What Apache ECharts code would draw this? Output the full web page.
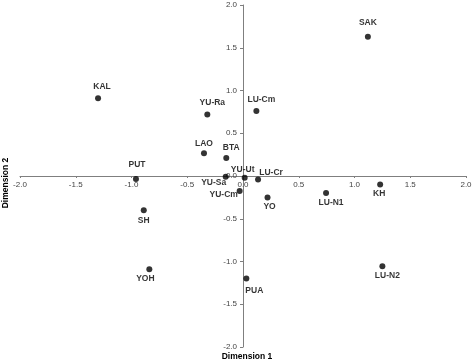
<!DOCTYPE html>
<html>
<head>
<meta charset="utf-8">
<script src="https://cdn.jsdelivr.net/npm/echarts@6/dist/echarts.min.js"></script>
<style>html,body{margin:0;padding:0;background:#fff}#c{width:474px;height:361px}</style>
</head>
<body>
<div id="c"></div>
<script>
var names = ["SAK","KAL","YU-Ra","LU-Cm","LAO","BTA","PUT","YU-Sa","YU-Ut","LU-Cr","YU-Cm","YO","LU-N1","KH","SH","YOH","PUA","LU-N2"];
var dim1 = [1.12,-1.30,-0.32,0.12,-0.35,-0.15,-0.96,-0.155,0.015,0.135,-0.03,0.22,0.745,1.23,-0.89,-0.84,0.03,1.25];
var dim2 = [1.63,0.91,0.72,0.76,0.265,0.21,-0.035,-0.01,-0.02,-0.04,-0.175,-0.25,-0.20,-0.10,-0.40,-1.09,-1.20,-1.055];
var tickValues = [-2.0,-1.5,-1.0,-0.5,0.0,0.5,1.0,1.5,2.0];
var xTitle = "Dimension 1", yTitle = "Dimension 2";

// label placement (style only): offset of label centre from dot centre
var labelOffset = {
  "SAK":[0,-14],"KAL":[4,-12],"YU-Ra":[5,-12],"LU-Cm":[5,-11],"LAO":[0,-10],"BTA":[5,-10],
  "PUT":[1,-14],"YU-Ut":[-2,-8],"LU-Cr":[13,-7],"YU-Sa":[-12,6],"YU-Cm":[-16,4],"YO":[2,9],
  "LU-N1":[5,9.5],"KH":[-1,9],"SH":[0,10],"YOH":[-4,9],"PUA":[8,12],"LU-N2":[5,9]
};
var FONT = "'Liberation Sans', Arial, sans-serif";

var W = 474, H = 361, GL = 20, GR = 8, GT = 5, GB = 14;
var gridW = W - GL - GR, gridH = H - GT - GB;
var vMin = tickValues[0], vMax = tickValues[tickValues.length-1];
// axis offsets so that each axis sits on the other's zero
var xOffset = -gridH * (0 - vMin) / (vMax - vMin);
var yOffset = -gridW * (0 - vMin) / (vMax - vMin);

var data = names.map(function(n,i){
  return {name:n, value:[dim1[i], dim2[i]], label:{offset: labelOffset[n]}};
});

var chart = echarts.init(document.getElementById('c'), null, {renderer:'canvas'});
chart.setOption({
  animation:false,
  grid:{left:GL, right:GR, top:GT, bottom:GB, containLabel:false, outerBoundsMode:'none'},
  xAxis:{type:'value', min:vMin, max:vMax, interval:0.5, offset:xOffset,
    axisLine:{onZero:false, lineStyle:{color:'#7f7f7f', width:1}},
    axisTick:{show:true, length:2, lineStyle:{color:'#7f7f7f'}},
    splitLine:{show:false},
    axisLabel:{margin:5, color:'#444', fontSize:8, fontFamily:FONT, hideOverlap:false,
      formatter:function(v){ return v.toFixed(1); }}
  },
  yAxis:{type:'value', min:vMin, max:vMax, interval:0.5, offset:yOffset,
    axisLine:{onZero:false, lineStyle:{color:'#7f7f7f', width:1}},
    axisTick:{show:true, length:3, lineStyle:{color:'#7f7f7f'}},
    splitLine:{show:false},
    axisLabel:{margin:6, color:'#444', fontSize:8, fontFamily:FONT, hideOverlap:false,
      formatter:function(v){ return v.toFixed(1); }}
  },
  series:[{
    type:'scatter', symbol:'circle', symbolSize:6,
    itemStyle:{color:'#000'},
    label:{show:true, position:'inside', formatter:'{b}', color:'#000',
      fontWeight:'bold', fontSize:8.5, fontFamily:FONT},
    data:data
  }],
  graphic:[
    {type:'text', x:247, y:357, style:{text:xTitle, fill:'#000',
      font:'bold 8.5px '+FONT, textAlign:'center', textVerticalAlign:'middle'}},
    {type:'text', rotation:Math.PI/2, x:1, y:183, style:{text:yTitle, fill:'#000',
      font:'bold 8.5px '+FONT, textAlign:'center', textVerticalAlign:'top'}}
  ]
});
</script>
</body>
</html>
